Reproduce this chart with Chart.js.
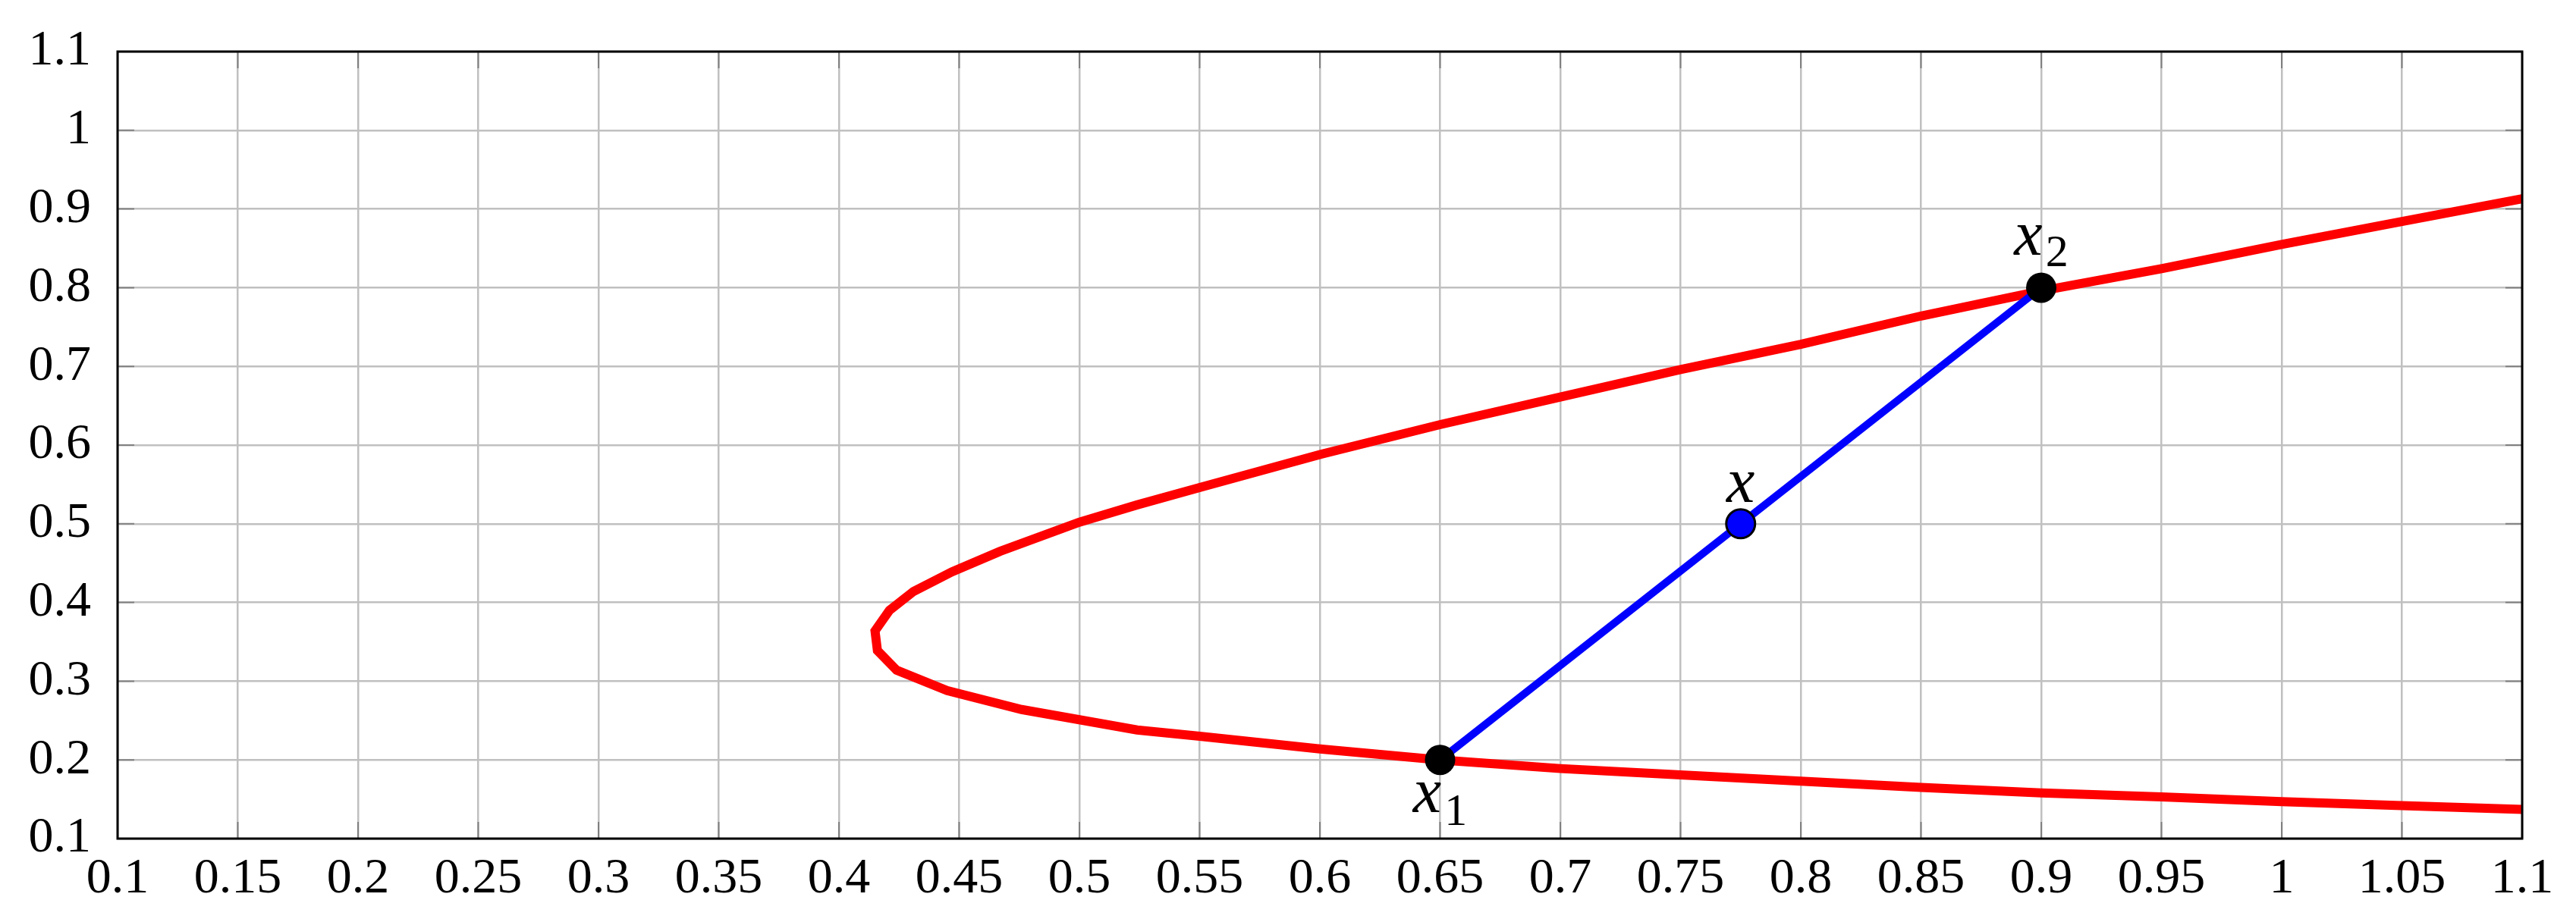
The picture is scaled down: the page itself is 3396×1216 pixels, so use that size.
<!DOCTYPE html>
<html>
<head>
<meta charset="utf-8">
<script src="https://cdn.jsdelivr.net/npm/chart.js@4.4.0/dist/chart.umd.min.js"></script>
<style>
  body { margin: 0; background: #fff; }
</style>
</head>
<body>
<canvas id="myChart" width="3396" height="1216"></canvas>
<script>
  // red curve (upper branch -> tip -> lower branch)
  var curveX = [1.1, 1.05, 1.0, 0.95, 0.9, 0.85, 0.8, 0.75, 0.7, 0.65, 0.6, 0.55, 0.524, 0.5,
    0.467, 0.447, 0.431, 0.421, 0.415, 0.416, 0.424, 0.445, 0.476, 0.524, 0.55, 0.6, 0.65,
    0.7, 0.75, 0.8, 0.85, 0.9, 0.95, 1.0, 1.05, 1.1];
  var curveY = [0.913, 0.884, 0.855, 0.824, 0.796, 0.764, 0.728, 0.696, 0.661, 0.626, 0.588, 0.546, 0.524, 0.502,
    0.465, 0.439, 0.414, 0.39, 0.364, 0.339, 0.314, 0.288, 0.264, 0.238, 0.23, 0.214, 0.2,
    0.189, 0.181, 0.173, 0.165, 0.158, 0.153, 0.147, 0.142, 0.137];

  // blue segment x1 -> x2
  var segX = [0.65, 0.9];
  var segY = [0.2, 0.8];

  // marked points
  var pointX = [0.65, 0.9, 0.775];
  var pointY = [0.2, 0.8, 0.5];
  var pointSub = ["1", "2", ""];
  var pointColor = ["#000000", "#000000", "#0000ff"];

  var xTicks = [0.1, 0.15, 0.2, 0.25, 0.3, 0.35, 0.4, 0.45, 0.5, 0.55, 0.6, 0.65, 0.7, 0.75,
    0.8, 0.85, 0.9, 0.95, 1.0, 1.05, 1.1];
  var xTickLabels = ["0.1", "0.15", "0.2", "0.25", "0.3", "0.35", "0.4", "0.45", "0.5", "0.55",
    "0.6", "0.65", "0.7", "0.75", "0.8", "0.85", "0.9", "0.95", "1", "1.05", "1.1"];
  var yTicks = [0.1, 0.2, 0.3, 0.4, 0.5, 0.6, 0.7, 0.8, 0.9, 1.0, 1.1];
  var yTickLabels = ["0.1", "0.2", "0.3", "0.4", "0.5", "0.6", "0.7", "0.8", "0.9", "1", "1.1"];

  function toXY(xs, ys) {
    return xs.map(function (v, i) {
      return { x: v, y: ys[i] };
    });
  }

  // inner tick marks + black frame
  var framePlugin = {
    id: "frame",
    afterDatasetsDraw: function (chart) {
      var ctx = chart.ctx;
      var a = chart.chartArea;
      var sx = chart.scales.x;
      var sy = chart.scales.y;
      ctx.save();
      ctx.strokeStyle = "#808080";
      ctx.lineWidth = 2;
      ctx.beginPath();
      xTicks.forEach(function (v) {
        var px = sx.getPixelForValue(v);
        ctx.moveTo(px, a.bottom);
        ctx.lineTo(px, a.bottom - 22);
        ctx.moveTo(px, a.top);
        ctx.lineTo(px, a.top + 22);
      });
      yTicks.forEach(function (v) {
        var py = sy.getPixelForValue(v);
        ctx.moveTo(a.left, py);
        ctx.lineTo(a.left + 22, py);
        ctx.moveTo(a.right, py);
        ctx.lineTo(a.right - 22, py);
      });
      ctx.stroke();
      ctx.strokeStyle = "#000";
      ctx.lineWidth = 3;
      ctx.strokeRect(a.left, a.top, a.right - a.left, a.bottom - a.top);
      ctx.restore();
    },
  };

  // x, x_1, x_2 labels next to the points
  var labelPlugin = {
    id: "pointLabels",
    afterDraw: function (chart) {
      var ctx = chart.ctx;
      var sx = chart.scales.x;
      var sy = chart.scales.y;
      ctx.save();
      ctx.fillStyle = "#000";
      ctx.textBaseline = "alphabetic";
      ctx.textAlign = "left";
      pointX.forEach(function (v, i) {
        var px = sx.getPixelForValue(v);
        var py = sy.getPixelForValue(pointY[i]);
        ctx.font = "italic 84px 'Liberation Serif'";
        var wx = ctx.measureText("x").width;
        ctx.font = "60px 'Liberation Serif'";
        var ws = pointSub[i] ? ctx.measureText(pointSub[i]).width + 4 : 0;
        var left = px - (wx + ws) / 2;
        var base, subBase;
        if (i === 0) {
          base = py + 69;
          subBase = py + 86;
        } else if (i === 1) {
          base = py - 43;
          subBase = py - 28;
        } else {
          base = py - 29;
        }
        ctx.font = "italic 84px 'Liberation Serif'";
        ctx.fillText("x", left, base);
        if (pointSub[i]) {
          ctx.font = "60px 'Liberation Serif'";
          ctx.fillText(pointSub[i], left + wx + 4, subBase);
        }
      });
      ctx.restore();
    },
  };

  var tickFont = { family: "'Liberation Serif'", size: 66, lineHeight: 1 };

  var ctx = document.getElementById("myChart").getContext("2d");
  var config = {
    type: "scatter",
    data: {
      datasets: [
        {
          data: toXY(pointX, pointY),
          showLine: false,
          pointRadius: [20, 20, 19],
          pointBackgroundColor: pointColor,
          pointBorderColor: "#000",
          pointBorderWidth: [0, 0, 3],
        },
        {
          data: toXY(segX, segY),
          showLine: true,
          borderColor: "#0000ff",
          borderWidth: 10,
          pointRadius: 0,
          clip: 0,
        },
        {
          data: toXY(curveX, curveY),
          showLine: true,
          borderColor: "#ff0000",
          borderWidth: 12,
          borderJoinStyle: "miter",
          pointRadius: 0,
          tension: 0,
          clip: 0,
        },
      ],
    },
    options: {
      responsive: false,
      animation: false,
      devicePixelRatio: 1,
      layout: { padding: { top: 62, right: 71, left: 0, bottom: 0 } },
      plugins: {
        legend: { display: false },
        tooltip: { enabled: false },
      },
      scales: {
        x: {
          type: "linear",
          min: 0.1,
          max: 1.1,
          afterBuildTicks: function (scale) {
            scale.ticks = xTicks.map(function (v) {
              return { value: v };
            });
          },
          afterFit: function (scale) {
            scale.height = 110;
          },
          ticks: {
            autoSkip: false,
            maxRotation: 0,
            padding: 21,
            color: "#000",
            font: tickFont,
            callback: function (v, i) {
              return xTickLabels[i];
            },
          },
          grid: { color: "#c0c0c0", lineWidth: 2.5, drawTicks: false },
          border: { display: false },
        },
        y: {
          type: "linear",
          min: 0.1,
          max: 1.1,
          afterBuildTicks: function (scale) {
            scale.ticks = yTicks.map(function (v) {
              return { value: v };
            });
          },
          afterFit: function (scale) {
            scale.width = 155;
          },
          ticks: {
            autoSkip: false,
            padding: 35,
            color: "#000",
            font: tickFont,
            callback: function (v, i) {
              return yTickLabels[i];
            },
          },
          grid: { color: "#c0c0c0", lineWidth: 2.5, drawTicks: false },
          border: { display: false },
        },
      },
    },
    plugins: [framePlugin, labelPlugin],
  };
  var myChart = new Chart(ctx, config);
</script>
</body>
</html>
